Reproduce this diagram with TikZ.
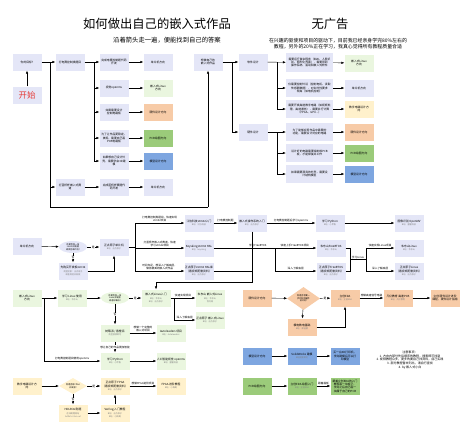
\documentclass[tikz,border=0pt]{standalone}
\usepackage{fontspec}
\setmainfont{Noto Sans CJK SC}
\usetikzlibrary{arrows.meta,shapes.geometric,positioning}

\definecolor{lav}{HTML}{E4E6F7}
\definecolor{lgreen}{HTML}{EAF6DF}
\definecolor{dgreen}{HTML}{9BCB7A}
\definecolor{kblue}{HTML}{7EA6E0}
\definecolor{korange}{HTML}{F7CBA7}
\definecolor{kyellow}{HTML}{FFF1CC}
\definecolor{kred}{HTML}{E53935}

\newcommand{\sm}[1]{{\fontsize{3}{3.6}\selectfont\color{gray}#1}}

\begin{document}
\begin{tikzpicture}[x=0.5mm,y=-0.5mm,
	box/.style={fill=#1, minimum width=14.5mm, minimum height=8.5mm, inner sep=0.5pt, align=center, font=\fontsize{4}{4.8}\selectfont},
	wbox/.style={box=#1, minimum width=23.5mm, minimum height=9.2mm},
	oval/.style={ellipse, fill=#1, minimum width=14mm, minimum height=6mm, inner sep=0pt, align=center, font=\fontsize{3}{3.5}\selectfont},
	dia/.style={diamond, fill=#1, aspect=1.6, minimum width=14mm, minimum height=8mm, inner sep=0pt, align=center, font=\fontsize{3}{3.5}\selectfont},
	arr/.style={-{Latex[length=1.5mm,width=1.2mm]}, line width=0.6pt},
	ln/.style={line width=0.6pt},
	lab/.style={font=\fontsize{3.8}{4.5}\selectfont, align=center, inner sep=1pt},
	yn/.style={fill=white, font=\fontsize{4}{4}\selectfont, inner sep=0.6pt}]
	\useasboundingbox (0,0) rectangle (474,435);

	\node[font=\fontsize{17.5}{20}\selectfont] (title) at (157,24) {如何做出自己的嵌入式作品};
	\node[font=\fontsize{17.5}{20}\selectfont] (noad) at (330,24) {无广告};
	\node[font=\fontsize{9}{10}\selectfont] (sub) at (167,40) {沿着箭头走一遍，便能找到自己的答案};
	\node[align=center, font=\fontsize{7}{8.5}\selectfont] (intro) at (338,44) {在兴趣的驱使和项目的驱动下，目前我已经亲身学完80\%左右的\\教程，另外的20\%正在学习，我真心觉得所有教程质量合适};

	% top
	\node[box=lav] (goal) at (27,62) {你的目标?};
	\node[box=lav, font=\fontsize{12}{14}\selectfont, text=kred] (start) at (27,95) {开始};
	\node[box=lav] (dsc) at (70,62) {打电赛控制类题目};
	\node[box=lav] (lqb) at (70,187) {打蓝桥杯嵌入式赛\\道};
	\node[box=lav] (make) at (208,62) {想做自己的\\嵌入式作品};

	\node[box=lav] (c1) at (114,62) {完成电赛控制题代码\\开发};
	\node[box=lav] (c2) at (114,88) {视觉openmv};
	\node[box=lav] (c3) at (114,112) {如果需要设计\\控制电路板};
	\node[box=lav] (c4) at (114,138) {为了让作品更稳定、\\美观，需要自己画\\PCB电路板};
	\node[box=lav] (c5) at (114,161) {如果想自己设计外\\壳，需要学会3D建\\模};
	\node[box=lav] (c6) at (114,187) {完成蓝桥杯赛题代\\码开发};

	\node[box=lav] (d1) at (158,62) {单片机方向};
	\node[box=lgreen] (d2) at (158,88) {嵌入式Linux\\方向};
	\node[box=korange] (d3) at (158,112) {硬件设计方向};
	\node[box=dgreen] (d4) at (158,138) {PCB绘图方向};
	\node[box=kblue] (d5) at (158,161) {模型设计方向};
	\node[box=lav] (d6) at (158,187) {单片机方向};

	\node[box=lav] (soft) at (253,62) {软件设计};
	\node[box=lav] (hard) at (253,132) {硬件设计};

	\node[wbox=lav] (s1) at (309.5,62.5) {需要运行复杂程序（如AI、人脸识\\别、图形化界面），需要用到\\操作系统、驱动和嵌入式软件};
	\node[wbox=lav] (s2) at (309.5,88) {仅需要控制外设（控制电机、读取\\传感器数据），对实时性要求\\较高（如电机控制）};
	\node[wbox=lav] (s3) at (309.5,109) {需要开发高速数字电路（如视频处\\理、高速通信），需要并行计算\\（FPGA、GPU...）};
	\node[wbox=lav] (h1) at (309.5,132) {为了能够实现作品中需要的\\功能，需要设计对应的电路};
	\node[wbox=lav] (h2) at (309.5,153) {设计好的电路需要绘制成PCB\\板，才能焊接并工作};
	\node[wbox=lav] (h3) at (309.5,174) {如果需要漂亮的外壳，需要设\\计结构模型};

	\node[box=lgreen] (r1) at (359,63) {嵌入式Linux\\方向};
	\node[box=lav] (r2) at (359,88) {单片机方向};
	\node[box=kyellow] (r3) at (359,109) {数字电路设计方\\向};
	\node[box=korange] (q1) at (359,132) {硬件设计方向};
	\node[box=dgreen] (q2) at (359,153) {PCB绘图方向};
	\node[box=kblue] (q3) at (359,174) {模型设计方向};

	\draw[arr] (start) -- (goal);
	\draw[arr] (goal) -- (dsc);
	\coordinate (j1) at (50,62);
	\coordinate (j2) at (50,207);
	\coordinate (j3) at (208,207);
	\coordinate (j4) at (50,187);
	\draw[ln] (j1) -- (j2) -- (j3);
	\draw[arr] (j3) -- (make);
	\draw[arr] (j4) -- (lqb);
	\draw[arr] (lqb) -- (c6);

	\coordinate (k1) at (94,62);
	\draw[arr] (dsc) -- (c1);
	\draw[ln] (k1) -- (c5 -| k1);
	\foreach \i in {2,...,5} {
		\draw[arr] (c\i -| k1) -- (c\i);
	}
	\foreach \i in {1,...,6} {
		\draw[arr] (c\i) -- (d\i);
	}

	\coordinate (m1) at (232,62);
	\draw[arr] (make) -- (soft);
	\draw[arr] (m1) |- (hard);
	\coordinate (n1) at (277,62);
	\coordinate (n2) at (277,132);
	\draw[arr] (soft) -- (s1);
	\draw[arr] (hard) -- (h1);
	\draw[ln] (n1) -- (s3 -| n1);
	\draw[ln] (n2) -- (h3 -| n2);
	\foreach \i in {2,3} {
		\draw[arr] (s\i -| n1) -- (s\i);
		\draw[arr] (h\i -| n2) -- (h\i);
	}
	\foreach \i in {1,2,3} {
		\draw[arr] (s\i) -- (r\i);
		\draw[arr] (h\i) -- (q\i);
	}

	% mcu
	\node[box=lav] (mcu) at (27,246) {单片机方向};
	\node[oval=lav] (e1) at (73,247) {你是否有一块\\stm32开发板\\或其他单片机?};
	\node[box=lav] (buy1) at (73,271) {先购买开发板stm32\\\sm{淘宝搜索：正点原子}\\\sm{或者其他开发板}};
	\node[box=lav] (zd) at (114,247) {正点原子单片机\\\sm{B站：正点原子}};
	\draw[arr] (mcu) -- (e1);
	\draw[arr] (e1) -- node[yn]{是} (zd);
	\draw[arr] (e1) -- node[yn]{否} (buy1);
	\draw[arr] (buy1) -| (zd);

	\node[box=lav] (A) at (199,223) {江协科技stm32入门\\\sm{B站：江协科技}};
	\node[box=lav] (B) at (199,248) {Keysking stm32 HAL\\\sm{B站：keysking}};
	\node[box=lav] (C) at (199,271) {正点原子stm32 HAL库\\（看视频配套资料）\\\sm{B站：正点原子}};
	\node[box=lav] (D) at (252,223) {嵌入式操作系统入门\\\sm{B站：正点原子}};
	\node[box=lav] (E) at (330,223) {学习 Python\\\sm{B站：小甲鱼}};
	\node[box=lav] (F) at (409,223) {图像识别 OpenMV\\\sm{B站：星瞳科技}};
	\coordinate (p1) at (135,223);
	\coordinate (p2) at (135,248);
	\coordinate (p3) at (135,271);
	\draw[ln] (zd) -- (zd -| p1);
	\draw[ln] (p1) -- (p3);
	\draw[arr] (p1) -- node[lab,above]{打电赛控制类题目，快速实现\\stm32项目} (A);
	\draw[arr] (p2) -- node[lab,above]{打蓝桥杯嵌入式赛道，快速\\学习stm32项目} (B);
	\draw[arr] (p3) -- node[lab,above]{时间充足，想深入了解底层，\\做出精美的嵌入式作品} (C);
	\draw[arr] (A) -- node[lab,above]{打电赛控制题} (D);
	\draw[arr] (D) -- node[lab,above]{打电赛控制题后学习openmv} (E);
	\draw[arr] (E) -- (F);

	\node[box=lav] (RT1) at (331,248) {韦东山FreeRTOS\\\sm{B站：韦东山}};
	\node[box=lav] (RT2) at (331,271) {正点原子FreeRTOS\\（看视频配套资料）\\\sm{B站：正点原子}};
	\node[box=lav] (L1) at (409,248) {韦东山Linux\\\sm{B站：韦东山}};
	\node[box=lav] (L2) at (409,271) {正点原子Linux\\（看视频配套资料）\\\sm{B站：正点原子}};
	\coordinate (q0) at (252,282);
	\coordinate (t1) at (275,248);
	\draw[ln] (C) -- (C -| q0);
	\draw[arr] (B) -- node[lab,above,pos=0.43]{学习FreeRTOS} node[lab,above,pos=0.79]{快速上手FreeRTOS项目} (RT1);
	\draw[arr] (t1) |- node[lab,above,pos=0.75]{深入了解底层} (RT2);
	\coordinate (u1) at (350,248);
	\coordinate (u2) at (350,271);
	\coordinate (um) at (350,259.5);
	\coordinate (u3) at (366,259.5);
	\coordinate (v1) at (366,248);
	\coordinate (v2) at (366,271);
	\draw[ln] (RT1) -- (u1) -- (u2) -- (RT2);
	\draw[ln] (um) -- node[lab,above]{学习Linux} (u3);
	\draw[ln] (v1) -- (v2);
	\draw[arr] (v1) -- node[lab,above]{快速实现Linux项目} (L1);
	\draw[arr] (v2) -- node[lab,above]{深入了解底层} (L2);

	% linux
	\node[box=lgreen] (lin) at (27,298) {嵌入式Linux\\方向};
	\node[box=lgreen] (lu) at (72,298) {学习 Linux 使用\\\sm{B站：韦东山}};
	\node[oval=lgreen] (e2) at (115,298) {你是否有一块\\Linux开发板\\或者树莓派?};
	\node[box=lgreen] (G) at (156,298) {嵌入式Linux入门\\\sm{B站：韦东山}\\\sm{B站：正点原子}};
	\node[box=lgreen] (W) at (210,298) {韦东山 嵌入式Linux\\\sm{B站：韦东山}\\\sm{百问网}};
	\node[box=lgreen] (Z) at (210,320) {正点原子 嵌入式Linux\\\sm{B站：正点原子}};
	\node[box=lgreen] (buy2) at (115,333) {树莓派 / 香橙派\\\sm{淘宝搜索即可}};
	\node[box=lgreen] (AP) at (171,333) {Autoleaders 项目\\\sm{B站：Autoleaders}};
	\node[box=lgreen] (py) at (115,361) {学习 Python\\\sm{B站：小甲鱼}};
	\node[box=lgreen] (AI) at (171,361) {人工智能视觉 openmv\\\sm{B站：星瞳科技}};
	\coordinate (q1) at (156,282);
	\draw[ln] (D) -- (q0) -- (q1);
	\draw[arr] (q1) -- (G);
	\draw[arr] (lin) -- (lu);
	\draw[arr] (lu) -- (e2);
	\draw[arr] (e2) -- node[yn]{是} (G);
	\draw[arr] (e2) -- node[yn]{否} (buy2);
	\coordinate (g1) at (174,298);
	\draw[arr] (G) -- node[lab,above]{快速实现项目} (W);
	\draw[arr] (g1) |- node[lab,above,pos=0.75]{深入了解底层} (Z);
	\draw[arr] (buy2) -- node[lab,above]{想做一个完整的\\嵌入式项目} (AP);
	\draw[arr] (buy2) -- node[lab,fill=white]{想让自己的作品更加智能} (py);
	\coordinate (w1) at (44,298);
	\coordinate (w2) at (44,361);
	\draw[ln] (w1) -- (w2);
	\draw[arr] (w2) -- node[lab,above]{打电赛控制题目使用openmv} (py);
	\draw[arr] (py) -- (AI);

	% fpga
	\node[box=kyellow] (fp) at (27,386) {数字电路设计方\\向};
	\node[dia=kyellow] (dia1) at (73,386) {你是否有FPGA\\开发板?};
	\node[box=kyellow] (zf) at (115,386) {正点原子 FPGA\\（看视频配套资料）\\\sm{B站：正点原子}};
	\node[box=kyellow] (vl) at (73,413) {HDLBits 刷题\\\sm{在线刷题网站}\\\sm{hdlbits.01xz.net}};
	\node[box=kyellow] (vx) at (115,413) {Verilog 入门教程\\\sm{B站：正点原子}\\\sm{B站：小梅哥}};
	\node[box=kyellow] (fx) at (171,386) {FPGA 进阶教程\\\sm{B站：小梅哥}};
	\draw[arr] (fp) -- (dia1);
	\draw[arr] (dia1) -- node[yn]{是} (zf);
	\draw[arr] (dia1) -- node[yn]{否} (vl);
	\draw[arr] (vl) -- (vx);
	\draw[arr] (vx) -- (zf);
	\draw[arr] (zf) -- node[lab,above]{想做FPGA进阶项目} (fx);

	% hardware
	\node[box=korange] (hw) at (257,298) {硬件设计方向};
	\node[dia=korange, minimum width=16.5mm, minimum height=11.5mm] (dd) at (303.5,298.5) {你是否想要一\\步到位把硬件\\设计好?};
	\node[box=korange] (lc) at (345,298) {立创EDA\\\sm{B站：立创EDA}};
	\node[box=korange] (fy) at (398,298) {凡亿教育 高速PCB\\\sm{B站：凡亿教育}};
	\node[box=korange] (jl) at (445,298) {立创 硬件设计进阶\\课程，硬件设计指南};
	\node[box=korange] (bas) at (302,327) {模电数电基础\\\sm{B站：郑益慧}};
	\draw[arr] (hw) -- (dd);
	\draw[arr] (dd) -- node[yn]{是} (lc);
	\draw[arr] (lc) -- node[lab,above]{想做高速信号电路} (fy);
	\draw[arr] (fy) -- (jl);
	\draw[arr] (dd) -- (bas);
	\draw[arr] (bas) -| (lc);

	\node[box=kblue] (md) at (257,356) {模型设计方向};
	\node[box=kblue] (sw) at (302,356) {SolidWorks 建模\\\sm{B站搜索即可}};
	\node[box=kblue] (p3d) at (345,356) {买一台3D打印机，\\学完建模后可以打\\印模型};
	\draw[arr] (md) -- (sw);
	\draw[arr] (sw) -- (p3d);

	\node[box=dgreen] (pcb) at (257,386) {PCB绘图方向};
	\node[box=dgreen] (lce) at (302,386) {立创EDA 绘图入门\\\sm{B站：立创EDA}};
	\node[box=dgreen] (lcp) at (345,386) {跟着立创EDA的入门\\教程画一块板子，\\学完之后自己画一\\块属于自己的PCB};
	\draw[arr] (pcb) -- (lce);
	\draw[arr] (lce) -- node[lab,above]{跟着画板} (lcp);

	\node[align=center, font=\fontsize{4.3}{5.6}\selectfont] (tips) at (410,360) {注意事项：\\1. 方向内部分先后顺序的教程，搜索即可找到\\2. 视频教程众多，更多的要自己找资料，自己实践\\3. 部分教程暂未列出，请自行查找\\4. by 嵌入式小白};
\end{tikzpicture}
\end{document}
